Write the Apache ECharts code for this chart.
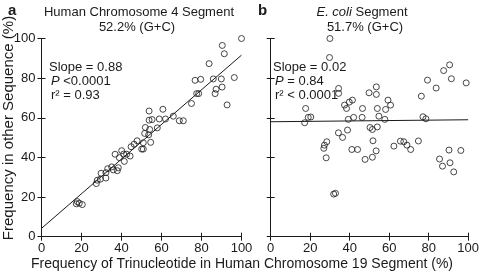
<!DOCTYPE html>
<html>
<head>
<meta charset="utf-8">
<script src="https://cdn.jsdelivr.net/npm/echarts@6/dist/echarts.min.js"></script>
<style>
  html, body { margin: 0; padding: 0; background: #fff; }
  #chart { width: 482px; height: 273px; }
</style>
</head>
<body>
<div id="chart"></div>
<script>
// panel a: human chr4 segment vs chr19 segment
const humanPoints = [
  [17.4, 16.6], [17.9, 17.7], [18.9, 16.9], [20.4, 16.2],
  [27.4, 26.8], [27.9, 28.5], [29.4, 29], [29.8, 32], [32.2, 29.6], [32.2, 32.3],
  [33.1, 34.3], [35.1, 35.2], [35.9, 33.7], [37.9, 33.3], [38.4, 34.8],
  [36.8, 41.6], [38.9, 39.9], [40.1, 43.4], [41.1, 41.7], [41.4, 38], [42.6, 41.6], [44.3, 40.7],
  [44.8, 45.4], [46.3, 46.7], [47.8, 48.4], [50.1, 44.2], [50.9, 44.2], [50.9, 47.4], [54.6, 47.6],
  [51.6, 52.1], [51.9, 55.1], [53.6, 51.4], [54.1, 54.1], [57.9, 54.9],
  [53.8, 58.8], [55.3, 59.1], [53.8, 63.4], [58.9, 59.4], [60.7, 64.3], [62.0, 59.4],
  [65.9, 60.8], [68.9, 58.5], [70.9, 58.5],
  [75.0, 67.2], [77.6, 72.2], [78.6, 72.2], [76.8, 78.9], [79.6, 79.4], [83.8, 87.3],
  [85.9, 79.6], [89.9, 79.6], [96.4, 80.3], [87.3, 74.4], [90.3, 75.5], [86.8, 72.2],
  [92.8, 66.5], [90.4, 96.5], [91.4, 92.3], [100, 100]
];
const humanFitX = [0, 100];
const humanFitY = [4.2, 91.6];

// panel b: E. coli segment vs chr19 segment
const ecoliPoints = [
  [30, 100], [29.8, 90.4],
  [17.7, 64.7], [19.0, 60.2], [20.3, 60.4], [17.2, 57.5],
  [34.4, 74.8], [34.4, 72.3],
  [37.4, 66.4], [38.4, 64.7], [39.8, 67.9], [41.4, 68.9], [39.3, 59.2], [42, 60.2], [46.3, 60.2], [46.5, 64.7],
  [49.8, 72.6], [53.5, 75.6], [53.5, 71.8], [54, 64.7], [54.8, 60.8], [57.8, 59.2], [58.2, 64.2], [59.4, 68.9], [60.7, 66.4],
  [76.3, 70.9], [77.1, 60.5], [78.6, 59.5], [79.4, 79], [83.8, 75], [87.6, 83.8], [90.6, 86.7], [91.5, 79.7], [99, 77.6],
  [50.3, 55.1], [51.5, 54.1], [54, 55.4], [51.8, 48.4], [53.4, 43.3], [51.5, 40.1], [47.8, 39],
  [41.1, 44], [44, 44], [38.9, 53.8], [36.4, 50.1], [34.3, 52.4],
  [28.4, 47.9], [27.2, 46.2], [26.9, 44.6], [28.1, 39.8], [31.9, 21.5], [32.8, 21.9],
  [62.4, 45.7], [65.7, 48.2], [67.4, 47.9], [69, 46.2], [70.9, 44], [74.8, 48.3],
  [85.5, 39.2], [87, 35.6], [90.8, 37.3], [92.7, 32.7], [90.3, 43.7], [96.3, 43.5]
];
const ecoliFitX = [0, 100];
const ecoliFitY = [58.0, 59.0];

const tickLabels = [0, 20, 40, 60, 80, 100];

const FONT = 'Liberation Sans, Arial, sans-serif';
const INK = '#1a1a1a';

const chart = echarts.init(document.getElementById('chart'));

function makeAxes(grid, showYLabels) {
  const common = {
    type: 'value', gridIndex: grid, min: 0, max: 100, interval: 20,
    axisLine: { show: true, lineStyle: { color: INK, width: 1 } },
    axisTick: { show: true, inside: true, length: 4, lineStyle: { color: INK } },
    splitLine: { show: false }
  };
  const lbl = {
    fontSize: 13, color: INK, fontFamily: FONT,
    formatter: v => (tickLabels.includes(v) ? String(v) : '')
  };
  return {
    x: [
      { ...common, position: 'bottom', axisLabel: { ...lbl, margin: 5 } },
      { ...common, position: 'top', axisLabel: { show: false } }
    ],
    y: [
      { ...common, position: 'left', axisLabel: showYLabels ? { ...lbl, margin: 6 } : { show: false } },
      { ...common, position: 'right', axisLabel: { show: false } }
    ]
  };
}

const a = makeAxes(0, true);
const b = makeAxes(1, false);

const pointStyle = { color: 'transparent', borderColor: INK, borderWidth: 1 };

function fitLine(xs, ys) {
  return xs.map((x, i) => [x, ys[i]]);
}

function txt(x, y, text, opts) {
  return {
    type: 'text', x, y, silent: true,
    style: Object.assign({
      text, font: '13px ' + FONT, fill: INK,
      textAlign: 'left', textVerticalAlign: 'middle'
    }, opts || {})
  };
}

const italic = { fontStyle: 'italic', fontSize: 13, fontFamily: FONT, fill: INK };

chart.setOption({
  animation: false,
  grid: [
    { left: 41.5, top: 38.5, width: 200, height: 198.2 },
    { left: 270.7, top: 38.5, width: 199.3, height: 198.2 }
  ],
  xAxis: [...a.x, ...b.x],
  yAxis: [...a.y, ...b.y],
  series: [
    {
      type: 'line', xAxisIndex: 0, yAxisIndex: 0, data: fitLine(humanFitX, humanFitY),
      symbol: 'none', lineStyle: { color: INK, width: 1 }, silent: true
    },
    {
      type: 'scatter', xAxisIndex: 0, yAxisIndex: 0, data: humanPoints,
      symbolSize: 6, itemStyle: pointStyle, clip: false
    },
    {
      type: 'line', xAxisIndex: 2, yAxisIndex: 2, data: fitLine(ecoliFitX, ecoliFitY),
      symbol: 'none', lineStyle: { color: INK, width: 1 }, silent: true
    },
    {
      type: 'scatter', xAxisIndex: 2, yAxisIndex: 2, data: ecoliPoints,
      symbolSize: 6, itemStyle: pointStyle, clip: false
    }
  ],
  graphic: [
    txt(8, 11, 'a', { font: 'bold 15px ' + FONT }),
    txt(258, 11, 'b', { font: 'bold 15px ' + FONT }),
    txt(139, 12, 'Human Chromosome 4 Segment', { textAlign: 'center' }),
    txt(137, 27, '52.2% (G+C)', { textAlign: 'center' }),
    txt(362, 12, '{i|E. coli} Segment', { textAlign: 'center', rich: { i: italic } }),
    txt(365, 27, '51.7% (G+C)', { textAlign: 'center' }),
    txt(49, 67, 'Slope = 0.88'),
    txt(51, 81, '{i|P} <0.0001', { rich: { i: italic } }),
    txt(51, 95, 'r\u00b2 = 0.93'),
    txt(273, 67, 'Slope = 0.02'),
    txt(275, 81, '{i|P} = 0.84', { rich: { i: italic } }),
    txt(275, 95, 'r\u00b2 < 0.0001'),
    txt(242, 264, 'Frequency of Trinucleotide in Human Chromosome 19 Segment (%)',
      { textAlign: 'center', font: '14px ' + FONT }),
    {
      type: 'text', x: 9, y: 128, rotation: Math.PI / 2, silent: true,
      style: {
        text: 'Frequency in other Sequence (%)', font: '15px ' + FONT, fill: INK,
        textAlign: 'center', textVerticalAlign: 'middle'
      }
    }
  ]
});
</script>
</body>
</html>
